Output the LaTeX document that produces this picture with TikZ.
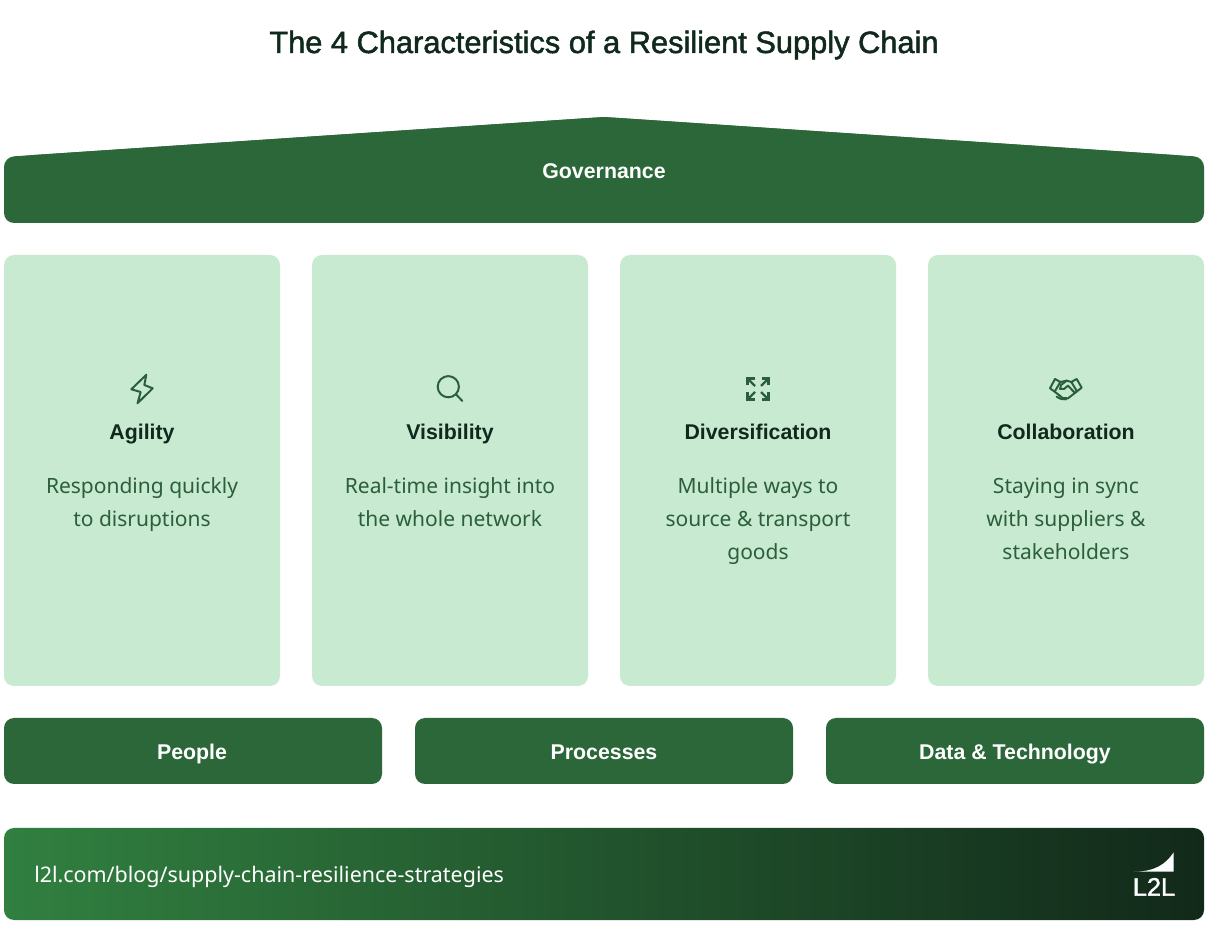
\documentclass[tikz,border=0pt]{standalone}
\usepackage{fontspec}
\setmainfont{Noto Sans}
\newfontfamily\medfont[FakeBold=1.6]{Liberation Sans}
\newfontfamily\semifont{Liberation Sans}
\usetikzlibrary{calc, positioning}
\definecolor{darkgreen}{HTML}{2B6739}
\definecolor{cardgreen}{HTML}{C8EAD1}
\definecolor{inkgreen}{HTML}{10291C}
\definecolor{textgreen}{HTML}{2B5F3B}
\definecolor{footleft}{HTML}{318040}
\definecolor{footmid}{HTML}{235C30}
\definecolor{footright}{HTML}{12291A}
\tikzset{
	card/.style={fill=cardgreen, rounded corners=7.5pt, minimum width=207pt, minimum height=323.25pt, inner sep=0pt, outer sep=0pt},
	bar/.style={fill=darkgreen, rounded corners=7.5pt, minimum width=283.5pt, minimum height=49.5pt, inner sep=0pt, outer sep=0pt},
	barlabel/.style={text=white, inner sep=0pt, anchor=base, font=\fontsize{16}{18}\semifont\bfseries},
	cardhead/.style={text=inkgreen, inner sep=0pt, anchor=base, font=\fontsize{16}{18}\semifont\bfseries},
	carddesc/.style={text=textgreen, inner sep=0pt, anchor=north, align=center, font=\fontsize{15.75}{24.75}\selectfont},
	iconline/.style={draw=textgreen, line width=1.5pt, line join=round, line cap=round}
}
\begin{document}
\begin{tikzpicture}
		[x=0.75pt, y=-0.75pt, node distance=24pt]
		\useasboundingbox (0,0) rectangle (1208,944);
		\fill[white] (0,0) rectangle (1208,944);
		% nodes %
		\node[text=inkgreen, inner sep=0pt, anchor=base, font=\fontsize{23.1}{25}\medfont] (title) at (604,53) {The 4 Characteristics of a Resilient Supply Chain};

		\fill[darkgreen, rounded corners=7.5pt] (604,117) -- (1204,157) -- (1204,223) -- (4,223) -- (4,157) -- cycle;
		\fill[darkgreen] (604,117) -- (1184,155.67) -- (24,155.67) -- cycle;
		\node[barlabel] (gov) at (604,178.7) {Governance};

		\node[card] (agility) at (142,470.5) {};
		\node[card, right=of agility] (visibility) {};
		\node[card, right=of visibility] (diversification) {};
		\node[card, right=of diversification] (collaboration) {};

		\node[cardhead] (agilityhead) at ($(agility.center)+(0,-30.7)$) {Agility};
		\node[cardhead] (visibilityhead) at ($(visibility.center)+(0,-30.7)$) {Visibility};
		\node[cardhead] (diversificationhead) at ($(diversification.center)+(0,-30.7)$) {Diversification};
		\node[cardhead] (collaborationhead) at ($(collaboration.center)+(0,-30.7)$) {Collaboration};

		\node[carddesc] (agilitydesc) at ($(agility.center)+(0,6.5)$) {Responding quickly\\to disruptions};
		\node[carddesc] (visibilitydesc) at ($(visibility.center)+(0,6.5)$) {Real-time insight into\\the whole network};
		\node[carddesc] (diversificationdesc) at ($(diversification.center)+(0,6.5)$) {Multiple ways to\\source \& transport\\goods};
		\node[carddesc] (collaborationdesc) at ($(collaboration.center)+(0,7.2)$) {Staying in sync\\with suppliers \&\\stakeholders};

		\node[bar] (people) at (193,751) {};
		\node[bar] (processes) at (604,751) {};
		\node[bar] (datatech) at (1015,751) {};
		\node[barlabel] (peoplelabel) at (192,759.7) {People};
		\node[barlabel] (processeslabel) at (604,759.7) {Processes};
		\node[barlabel] (datatechlabel) at (1015,759.7) {Data \& Technology};

		\node[left color=footleft, middle color=footmid, right color=footright, rounded corners=7.5pt, minimum width=900pt, minimum height=69pt, inner sep=0pt, outer sep=0pt] (footer) at (604,874) {};
		\node[text=white, inner sep=0pt, anchor=base west, font=\fontsize{16.1}{18}\selectfont] (url) at (34,882.7) {l2l.com/blog/supply-chain-resilience-strategies};
		\node[text=white, inner sep=0pt, anchor=base, font=\fontsize{19}{22}\medfont] (logotext) at (1154,895.7) {L2L};

		% icons %
		\draw[iconline] (146.3,374.8) -- (131.3,389.3) -- (140.7,392) -- (137.5,403.3) -- (152.7,388.3) -- (144.3,385) -- cycle;
		\draw[iconline] (448.3,386.7) circle (10.6);
		\draw[iconline] (456,394.3) -- (462.3,401);
		\foreach \sx/\sy in {-1/-1, 1/-1, -1/1, 1/1}{
			\draw[iconline, line width=1.7pt, line cap=butt, shift={(758,389)}] (\sx*3,\sy*3) -- (\sx*10.5,\sy*10.5);
			\draw[iconline, line width=1.7pt, line cap=butt, line join=miter, shift={(758,389)}] (\sx*10.5,\sy*3.5) -- (\sx*10.5,\sy*10.5) -- (\sx*3.5,\sy*10.5);
		}
		\begin{scope}[shift={(1030,365)}, x=0.25pt, y=-0.25pt]
			\draw[iconline] (60,70) -- (75,42) -- (91,51) -- (74,80) -- cycle;
			\draw[iconline] (155,68) -- (140,42) -- (124,51) -- (141,79) -- cycle;
			\draw[iconline] (91,51) -- (110,47) -- (124,51);
			\draw[iconline] (74,80) -- (98,99) -- (114,100) -- (141,79);
			\draw[iconline] (110,47) -- (93,60) -- (90,72) -- (102,72) -- (114,62) -- (135,84);
			\draw[iconline] (80,95) .. controls (90,102) and (98,104) .. (108,103);
		\end{scope}
		\fill[white!95!cardgreen] (1134,871.7) .. controls (1155,871.7) and (1166,864) .. (1173.7,852.3) -- (1173.7,871.7) -- cycle;
\end{tikzpicture}
\end{document}
